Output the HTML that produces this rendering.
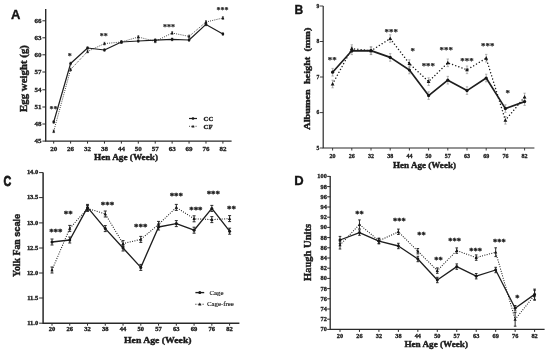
<!DOCTYPE html>
<html lang="en">
<head>
<meta charset="utf-8">
<title>Egg quality by hen age</title>
<style>
html,body{margin:0;padding:0;background:#fff;}
body{width:550px;height:354px;overflow:hidden;}
svg{display:block;}
text{font-family:"Liberation Serif",serif;font-weight:bold;fill:#1c1c1c;stroke:#1c1c1c;stroke-width:0.3px;}
.lb{stroke-width:0.42px;}
.sans{font-family:"Liberation Sans",sans-serif;}
.pl{font-family:"Liberation Sans",sans-serif;font-weight:bold;fill:#151515;stroke:#151515;}
.ax{fill:none;stroke:#2a2a2a;stroke-linecap:butt;}
.ln{fill:none;stroke:#1e1e1e;stroke-linejoin:round;}
.mk{fill:#161616;stroke:none;}
.st text{stroke-width:inherit;}
.lb{white-space:pre;}
.lgr{font-weight:normal;stroke-width:0.15px;}
</style>
</head>
<body>
<svg width="550" height="354" viewBox="0 0 550 354">
<rect width="550" height="354" fill="#fff"/>
<g id="chartA">
<path fill="none" stroke="#333" stroke-width="0.6" d="M53.7 120.7V123.3M52.7 120.7h2M52.7 123.3h2M70.62 62.2V64.8M69.62 62.2h2M69.62 64.8h2M87.54 46.7V49.3M86.54 46.7h2M86.54 49.3h2M104.46 48.7V51.3M103.46 48.7h2M103.46 51.3h2M121.38 40.7V43.3M120.38 40.7h2M120.38 43.3h2M138.3 39.7V42.3M137.3 39.7h2M137.3 42.3h2M155.22 38.9V41.5M154.22 38.9h2M154.22 41.5h2M172.14 38.1V40.7M171.14 38.1h2M171.14 40.7h2M189.06 38.7V41.3M188.06 38.7h2M188.06 41.3h2M205.98 23.1V25.7M204.98 23.1h2M204.98 25.7h2M222.9 32.7V35.3M221.9 32.7h2M221.9 35.3h2M53.7 130V132.6M52.7 130h2M52.7 132.6h2M70.62 68.2V70.8M69.62 68.2h2M69.62 70.8h2M87.54 50.2V52.8M86.54 50.2h2M86.54 52.8h2M104.46 42.3V44.9M103.46 42.3h2M103.46 44.9h2M121.38 40.7V43.3M120.38 40.7h2M120.38 43.3h2M138.3 35.7V38.3M137.3 35.7h2M137.3 38.3h2M155.22 40.1V42.7M154.22 40.1h2M154.22 42.7h2M172.14 31.7V34.3M171.14 31.7h2M171.14 34.3h2M189.06 35.1V37.7M188.06 35.1h2M188.06 37.7h2M205.98 20.7V23.3M204.98 20.7h2M204.98 23.3h2M222.9 16.7V19.3M221.9 16.7h2M221.9 19.3h2"/>
<path class="ax" stroke-width="1.4" d="M45.7 9V141.1H231.6"/>
<path class="ax" stroke-width="1.0" d="M42.4 20.8H45.7M42.4 37.8H45.7M42.4 54.8H45.7M42.4 72H45.7M42.4 89.8H45.7M42.4 107H45.7M42.4 124H45.7M42.4 141.1H45.7M53.7 141.1V143.6M70.62 141.1V143.6M87.54 141.1V143.6M104.46 141.1V143.6M121.38 141.1V143.6M138.3 141.1V143.6M155.22 141.1V143.6M172.14 141.1V143.6M189.06 141.1V143.6M205.98 141.1V143.6M222.9 141.1V143.6"/>
<g class="tl">
<text x="41.6" y="23.14" font-size="7.0" text-anchor="end">66</text>
<text x="41.6" y="40.14" font-size="7.0" text-anchor="end">63</text>
<text x="41.6" y="57.14" font-size="7.0" text-anchor="end">60</text>
<text x="41.6" y="74.34" font-size="7.0" text-anchor="end">57</text>
<text x="41.6" y="92.14" font-size="7.0" text-anchor="end">54</text>
<text x="41.6" y="109.34" font-size="7.0" text-anchor="end">51</text>
<text x="41.6" y="126.34" font-size="7.0" text-anchor="end">48</text>
<text x="41.6" y="143.44" font-size="7.0" text-anchor="end">45</text>
<text x="53.7" y="150.6" font-size="7.0" text-anchor="middle">20</text>
<text x="70.62" y="150.6" font-size="7.0" text-anchor="middle">26</text>
<text x="87.54" y="150.6" font-size="7.0" text-anchor="middle">32</text>
<text x="104.46" y="150.6" font-size="7.0" text-anchor="middle">38</text>
<text x="121.38" y="150.6" font-size="7.0" text-anchor="middle">44</text>
<text x="138.3" y="150.6" font-size="7.0" text-anchor="middle">50</text>
<text x="155.22" y="150.6" font-size="7.0" text-anchor="middle">57</text>
<text x="172.14" y="150.6" font-size="7.0" text-anchor="middle">63</text>
<text x="189.06" y="150.6" font-size="7.0" text-anchor="middle">69</text>
<text x="205.98" y="150.6" font-size="7.0" text-anchor="middle">76</text>
<text x="222.9" y="150.6" font-size="7.0" text-anchor="middle">82</text>
</g>
<polyline class="ln" stroke-width="0.9" stroke-dasharray="0.9 1.3" stroke-linecap="butt" points="53.7,131.3 70.62,69.5 87.54,51.5 104.46,43.6 121.38,42 138.3,37 155.22,41.4 172.14,33 189.06,36.4 205.98,22 222.9,18"/>
<polyline class="ln" stroke-width="1.2" points="53.7,122 70.62,63.5 87.54,48 104.46,50 121.38,42 138.3,41 155.22,40.2 172.14,39.4 189.06,40 205.98,24.4 222.9,34"/>
<circle class="mk" cx="53.7" cy="122" r="1.35"/>
<circle class="mk" cx="70.62" cy="63.5" r="1.35"/>
<circle class="mk" cx="87.54" cy="48" r="1.35"/>
<circle class="mk" cx="104.46" cy="50" r="1.35"/>
<circle class="mk" cx="121.38" cy="42" r="1.35"/>
<circle class="mk" cx="138.3" cy="41" r="1.35"/>
<circle class="mk" cx="155.22" cy="40.2" r="1.35"/>
<circle class="mk" cx="172.14" cy="39.4" r="1.35"/>
<circle class="mk" cx="189.06" cy="40" r="1.35"/>
<circle class="mk" cx="205.98" cy="24.4" r="1.35"/>
<circle class="mk" cx="222.9" cy="34" r="1.35"/>
<path class="mk" d="M53.7 129.65l1.5 2.85h-3zM70.62 67.85l1.5 2.85h-3zM87.54 49.85l1.5 2.85h-3zM104.46 41.95l1.5 2.85h-3zM121.38 40.35l1.5 2.85h-3zM138.3 35.35l1.5 2.85h-3zM155.22 39.75l1.5 2.85h-3zM172.14 31.35l1.5 2.85h-3zM189.06 34.75l1.5 2.85h-3zM205.98 20.35l1.5 2.85h-3zM222.9 16.35l1.5 2.85h-3z"/>
<g class="st" stroke-width="0.15">
<text x="53.4" y="112.48" font-size="8.0" text-anchor="middle">**</text>
<text x="69.8" y="59.48" font-size="8.0" text-anchor="middle">*</text>
<text x="103.8" y="38.88" font-size="8.0" text-anchor="middle">**</text>
<text x="169" y="29.88" font-size="8.0" text-anchor="middle">***</text>
<text x="222.5" y="13.08" font-size="8.0" text-anchor="middle">***</text>
</g>
<text class="lb" xml:space="preserve" font-size="10" text-anchor="middle" textLength="67" lengthAdjust="spacingAndGlyphs" transform="translate(26.6 78.5) rotate(-90)">Egg weight (g)</text>
<text class="lb" font-size="9.0" text-anchor="middle" textLength="64" lengthAdjust="spacingAndGlyphs" x="126" y="159.7">Hen Age (Week)</text>
<text class="pl" font-size="13" style="stroke-width:0.35px" transform="translate(11 18.8) scale(1 1)">A</text>
<path class="ln" stroke-width="1.2" d="M189 118.5h8"/>
<circle class="mk" cx="193" cy="118.5" r="1.35"/>
<text class="lgb" x="203.6" y="120.9" font-size="6.8" text-anchor="start">CC</text>
<path class="ln" stroke-width="0.9" stroke-dasharray="0.9 1.3" d="M189 126.3h8"/>
<path class="mk" d="M193 124.65l1.5 2.85h-3z"/>
<text class="lgb" x="203.6" y="128.7" font-size="6.8" text-anchor="start">CF</text>
</g>
<g id="chartB">
<path fill="none" stroke="#8c8c8c" stroke-width="0.65" d="M332.6 68.4V76M331.4 68.4h2.4M331.4 76h2.4M351.8 47V54.6M350.6 47h2.4M350.6 54.6h2.4M371 46.8V54.4M369.8 46.8h2.4M369.8 54.4h2.4M390.2 53.6V61.2M389 53.6h2.4M389 61.2h2.4M409.4 66.2V73.8M408.2 66.2h2.4M408.2 73.8h2.4M428.6 91.8V99.4M427.4 91.8h2.4M427.4 99.4h2.4M447.8 76.4V84M446.6 76.4h2.4M446.6 84h2.4M467 86.8V94.4M465.8 86.8h2.4M465.8 94.4h2.4M486.2 74.2V81.8M485 74.2h2.4M485 81.8h2.4M505.4 104.8V112.4M504.2 104.8h2.4M504.2 112.4h2.4M524.6 97.8V105.4M523.4 97.8h2.4M523.4 105.4h2.4M332.6 80.2V87.8M331.4 80.2h2.4M331.4 87.8h2.4M351.8 44.8V52.4M350.6 44.8h2.4M350.6 52.4h2.4M371 47V54.6M369.8 47h2.4M369.8 54.6h2.4M390.2 34.8V42.4M389 34.8h2.4M389 42.4h2.4M409.4 59.8V67.4M408.2 59.8h2.4M408.2 67.4h2.4M428.6 77.8V85.4M427.4 77.8h2.4M427.4 85.4h2.4M447.8 59V66.6M446.6 59h2.4M446.6 66.6h2.4M467 66V73.6M465.8 66h2.4M465.8 73.6h2.4M486.2 54.4V62M485 54.4h2.4M485 62h2.4M505.4 116.5V124.1M504.2 116.5h2.4M504.2 124.1h2.4M524.6 93.2V100.8M523.4 93.2h2.4M523.4 100.8h2.4"/>
<path class="ax" stroke-width="1.2" d="M323.2 6V148H534.4"/>
<path class="ax" stroke-width="0.9" d="M319.9 6H323.2M319.9 41.5H323.2M319.9 77H323.2M319.9 112.6H323.2M319.9 148H323.2M332.6 148V150.5M351.8 148V150.5M371 148V150.5M390.2 148V150.5M409.4 148V150.5M428.6 148V150.5M447.8 148V150.5M467 148V150.5M486.2 148V150.5M505.4 148V150.5M524.6 148V150.5"/>
<g class="tl">
<text x="319.4" y="7.88" font-size="5.6" text-anchor="end">9</text>
<text x="319.4" y="43.38" font-size="5.6" text-anchor="end">8</text>
<text x="319.4" y="78.88" font-size="5.6" text-anchor="end">7</text>
<text x="319.4" y="114.48" font-size="5.6" text-anchor="end">6</text>
<text x="319.4" y="149.88" font-size="5.6" text-anchor="end">5</text>
<text x="332.6" y="158.4" font-size="6.0" text-anchor="middle">20</text>
<text x="351.8" y="158.4" font-size="6.0" text-anchor="middle">26</text>
<text x="371" y="158.4" font-size="6.0" text-anchor="middle">32</text>
<text x="390.2" y="158.4" font-size="6.0" text-anchor="middle">38</text>
<text x="409.4" y="158.4" font-size="6.0" text-anchor="middle">44</text>
<text x="428.6" y="158.4" font-size="6.0" text-anchor="middle">50</text>
<text x="447.8" y="158.4" font-size="6.0" text-anchor="middle">57</text>
<text x="467" y="158.4" font-size="6.0" text-anchor="middle">63</text>
<text x="486.2" y="158.4" font-size="6.0" text-anchor="middle">69</text>
<text x="505.4" y="158.4" font-size="6.0" text-anchor="middle">76</text>
<text x="524.6" y="158.4" font-size="6.0" text-anchor="middle">82</text>
</g>
<polyline class="ln" stroke-width="1.45" stroke-dasharray="0.01 3.3" stroke-linecap="round" points="332.6,84 351.8,48.6 371,50.8 390.2,38.6 409.4,63.6 428.6,81.6 447.8,62.8 467,69.8 486.2,58.2 505.4,120.3 524.6,97"/>
<polyline class="ln" stroke-width="1.7" points="332.6,72.2 351.8,50.8 371,50.6 390.2,57.4 409.4,70 428.6,95.6 447.8,80.2 467,90.6 486.2,78 505.4,108.6 524.6,101.6"/>
<circle class="mk" cx="332.6" cy="72.2" r="1.6"/>
<circle class="mk" cx="351.8" cy="50.8" r="1.6"/>
<circle class="mk" cx="371" cy="50.6" r="1.6"/>
<circle class="mk" cx="390.2" cy="57.4" r="1.6"/>
<circle class="mk" cx="409.4" cy="70" r="1.6"/>
<circle class="mk" cx="428.6" cy="95.6" r="1.6"/>
<circle class="mk" cx="447.8" cy="80.2" r="1.6"/>
<circle class="mk" cx="467" cy="90.6" r="1.6"/>
<circle class="mk" cx="486.2" cy="78" r="1.6"/>
<circle class="mk" cx="505.4" cy="108.6" r="1.6"/>
<circle class="mk" cx="524.6" cy="101.6" r="1.6"/>
<path class="mk" d="M332.6 81.91l1.9 3.61h-3.8zM351.8 46.51l1.9 3.61h-3.8zM371 48.71l1.9 3.61h-3.8zM390.2 36.51l1.9 3.61h-3.8zM409.4 61.51l1.9 3.61h-3.8zM428.6 79.51l1.9 3.61h-3.8zM447.8 60.71l1.9 3.61h-3.8zM467 67.71l1.9 3.61h-3.8zM486.2 56.11l1.9 3.61h-3.8zM505.4 118.21l1.9 3.61h-3.8zM524.6 94.91l1.9 3.61h-3.8z"/>
<g class="st" stroke-width="0.2">
<text x="332.3" y="62.69" font-size="8.9" text-anchor="middle">**</text>
<text x="391.2" y="35.09" font-size="8.9" text-anchor="middle">***</text>
<text x="412.6" y="54.29" font-size="8.9" text-anchor="middle">*</text>
<text x="428.3" y="69.29" font-size="8.9" text-anchor="middle">***</text>
<text x="446.2" y="53.29" font-size="8.9" text-anchor="middle">***</text>
<text x="467" y="64.19" font-size="8.9" text-anchor="middle">***</text>
<text x="487.7" y="49.29" font-size="8.9" text-anchor="middle">***</text>
<text x="507.6" y="96.29" font-size="8.9" text-anchor="middle">*</text>
</g>
<text class="lb" xml:space="preserve" font-size="8.8" text-anchor="middle" textLength="102" lengthAdjust="spacingAndGlyphs" transform="translate(310.3 78.7) rotate(-90)">Albumen  height  (mm)</text>
<text class="lb" font-size="8.9" text-anchor="middle" textLength="63" lengthAdjust="spacingAndGlyphs" x="424.5" y="168.4">Hen Age (Week)</text>
<text class="pl" font-size="13" style="stroke-width:0.35px" transform="translate(294.6 13.6) scale(0.93 1)">B</text>
</g>
<g id="chartC">
<path fill="none" stroke="#222" stroke-width="0.95" d="M52 239V245M50.5 239h3M50.5 245h3M69.76 237V243M68.26 237h3M68.26 243h3M87.52 204.4V210.4M86.02 204.4h3M86.02 210.4h3M105.28 225.6V231.6M103.78 225.6h3M103.78 231.6h3M123.04 245V251M121.54 245h3M121.54 251h3M140.8 264.4V270.4M139.3 264.4h3M139.3 270.4h3M158.56 224V230M157.06 224h3M157.06 230h3M176.32 220.6V226.6M174.82 220.6h3M174.82 226.6h3M194.08 227.2V233.2M192.58 227.2h3M192.58 233.2h3M211.84 205.4V211.4M210.34 205.4h3M210.34 211.4h3M229.6 228.2V234.2M228.1 228.2h3M228.1 234.2h3M52 267V273M50.5 267h3M50.5 273h3M69.76 225.4V231.4M68.26 225.4h3M68.26 231.4h3M87.52 205.4V211.4M86.02 205.4h3M86.02 211.4h3M105.28 211V217M103.78 211h3M103.78 217h3M123.04 240.6V246.6M121.54 240.6h3M121.54 246.6h3M140.8 236.4V242.4M139.3 236.4h3M139.3 242.4h3M158.56 221.4V227.4M157.06 221.4h3M157.06 227.4h3M176.32 204.4V210.4M174.82 204.4h3M174.82 210.4h3M194.08 215.8V221.8M192.58 215.8h3M192.58 221.8h3M211.84 216.6V222.6M210.34 216.6h3M210.34 222.6h3M229.6 215.6V221.6M228.1 215.6h3M228.1 221.6h3"/>
<path class="ax" stroke-width="1.5" d="M43.1 172.4V323.2H239.4"/>
<path class="ax" stroke-width="1.0" d="M39.1 172.6H43.1M39.1 197.6H43.1M39.1 222.9H43.1M39.1 248H43.1M39.1 273H43.1M39.1 298H43.1M39.1 323.2H43.1M52 323.2V325.7M69.76 323.2V325.7M87.52 323.2V325.7M105.28 323.2V325.7M123.04 323.2V325.7M140.8 323.2V325.7M158.56 323.2V325.7M176.32 323.2V325.7M194.08 323.2V325.7M211.84 323.2V325.7M229.6 323.2V325.7"/>
<g class="tl">
<text transform="translate(38.2 174.38) scale(1.22 1)" font-size="5.3" text-anchor="end">14.0</text>
<text transform="translate(38.2 199.38) scale(1.22 1)" font-size="5.3" text-anchor="end">13.5</text>
<text transform="translate(38.2 224.68) scale(1.22 1)" font-size="5.3" text-anchor="end">13.0</text>
<text transform="translate(38.2 249.78) scale(1.22 1)" font-size="5.3" text-anchor="end">12.5</text>
<text transform="translate(38.2 274.78) scale(1.22 1)" font-size="5.3" text-anchor="end">12.0</text>
<text transform="translate(38.2 299.78) scale(1.22 1)" font-size="5.3" text-anchor="end">11.5</text>
<text transform="translate(38.2 324.98) scale(1.22 1)" font-size="5.3" text-anchor="end">11.0</text>
<text transform="translate(52 331.4) scale(1.22 1)" font-size="5.3" text-anchor="middle">20</text>
<text transform="translate(69.76 331.4) scale(1.22 1)" font-size="5.3" text-anchor="middle">26</text>
<text transform="translate(87.52 331.4) scale(1.22 1)" font-size="5.3" text-anchor="middle">32</text>
<text transform="translate(105.28 331.4) scale(1.22 1)" font-size="5.3" text-anchor="middle">38</text>
<text transform="translate(123.04 331.4) scale(1.22 1)" font-size="5.3" text-anchor="middle">44</text>
<text transform="translate(140.8 331.4) scale(1.22 1)" font-size="5.3" text-anchor="middle">50</text>
<text transform="translate(158.56 331.4) scale(1.22 1)" font-size="5.3" text-anchor="middle">57</text>
<text transform="translate(176.32 331.4) scale(1.22 1)" font-size="5.3" text-anchor="middle">63</text>
<text transform="translate(194.08 331.4) scale(1.22 1)" font-size="5.3" text-anchor="middle">69</text>
<text transform="translate(211.84 331.4) scale(1.22 1)" font-size="5.3" text-anchor="middle">76</text>
<text transform="translate(229.6 331.4) scale(1.22 1)" font-size="5.3" text-anchor="middle">82</text>
</g>
<polyline class="ln" stroke-width="1.05" stroke-dasharray="1.0 1.4" stroke-linecap="butt" points="52,270 69.76,228.4 87.52,208.4 105.28,214 123.04,243.6 140.8,239.4 158.56,224.4 176.32,207.4 194.08,218.8 211.84,219.6 229.6,218.6"/>
<polyline class="ln" stroke-width="1.35" points="52,242 69.76,240 87.52,207.4 105.28,228.6 123.04,248 140.8,267.4 158.56,227 176.32,223.6 194.08,230.2 211.84,208.4 229.6,231.2"/>
<circle class="mk" cx="52" cy="242" r="1.5"/>
<circle class="mk" cx="69.76" cy="240" r="1.5"/>
<circle class="mk" cx="87.52" cy="207.4" r="1.5"/>
<circle class="mk" cx="105.28" cy="228.6" r="1.5"/>
<circle class="mk" cx="123.04" cy="248" r="1.5"/>
<circle class="mk" cx="140.8" cy="267.4" r="1.5"/>
<circle class="mk" cx="158.56" cy="227" r="1.5"/>
<circle class="mk" cx="176.32" cy="223.6" r="1.5"/>
<circle class="mk" cx="194.08" cy="230.2" r="1.5"/>
<circle class="mk" cx="211.84" cy="208.4" r="1.5"/>
<circle class="mk" cx="229.6" cy="231.2" r="1.5"/>
<path class="mk" d="M52 268.24l1.6 3.04h-3.2zM69.76 226.64l1.6 3.04h-3.2zM87.52 206.64l1.6 3.04h-3.2zM105.28 212.24l1.6 3.04h-3.2zM123.04 241.84l1.6 3.04h-3.2zM140.8 237.64l1.6 3.04h-3.2zM158.56 222.64l1.6 3.04h-3.2zM176.32 205.64l1.6 3.04h-3.2zM194.08 217.04l1.6 3.04h-3.2zM211.84 217.84l1.6 3.04h-3.2zM229.6 216.84l1.6 3.04h-3.2z"/>
<g class="st" stroke-width="0.3">
<text transform="translate(55.8 234.6) scale(1.2 1)" font-size="7.4" text-anchor="middle">***</text>
<text transform="translate(68.2 216.6) scale(1.2 1)" font-size="7.4" text-anchor="middle">**</text>
<text transform="translate(107.5 207.6) scale(1.2 1)" font-size="7.4" text-anchor="middle">***</text>
<text transform="translate(140.7 230) scale(1.2 1)" font-size="7.4" text-anchor="middle">***</text>
<text transform="translate(176.3 198.8) scale(1.2 1)" font-size="7.4" text-anchor="middle">***</text>
<text transform="translate(195.9 212.6) scale(1.2 1)" font-size="7.4" text-anchor="middle">***</text>
<text transform="translate(213.3 197.2) scale(1.2 1)" font-size="7.4" text-anchor="middle">***</text>
<text transform="translate(231.4 212) scale(1.2 1)" font-size="7.4" text-anchor="middle">**</text>
</g>
<text class="lb" xml:space="preserve" font-size="9.8" text-anchor="middle" transform="translate(20 245.4) rotate(-90)">Yolk Fan <tspan class="sans" font-size="9.2">scale</tspan></text>
<text class="lb" font-size="9.2" text-anchor="middle" textLength="67.6" lengthAdjust="spacingAndGlyphs" x="157.8" y="342.6">Hen Age (Week)</text>
<text class="pl" font-size="14.2" style="stroke-width:0.75px" transform="translate(3.6 186) scale(0.76 1)">C</text>
<path class="ln" stroke-width="1.35" d="M195.4 292.6h8.8"/>
<circle class="mk" cx="199.8" cy="292.6" r="1.5"/>
<text class="lgr" transform="translate(209.4 294.6) scale(1.12 1)" font-size="6.1" text-anchor="start">Cage</text>
<path class="ln" stroke-width="1.05" stroke-dasharray="1.0 1.4" d="M195.4 304.3h8.8"/>
<path class="mk" d="M199.8 302.54l1.6 3.04h-3.2z"/>
<text class="lgr" transform="translate(207 306.2) scale(1.12 1)" font-size="6.1" text-anchor="start">Cage-free</text>
</g>
<g id="chartD">
<path fill="none" stroke="#222" stroke-width="0.95" d="M340 236.4V243.6M338.7 236.4h2.6M338.7 243.6h2.6M359.46 229.9V235.3M358.16 229.9h2.6M358.16 235.3h2.6M378.92 238.5V243.9M377.62 238.5h2.6M377.62 243.9h2.6M398.38 243.3V248.7M397.08 243.3h2.6M397.08 248.7h2.6M417.84 256.3V261.7M416.54 256.3h2.6M416.54 261.7h2.6M437.3 277.3V282.7M436 277.3h2.6M436 282.7h2.6M456.76 263.9V269.3M455.46 263.9h2.6M455.46 269.3h2.6M476.22 273.5V278.9M474.92 273.5h2.6M474.92 278.9h2.6M495.68 267.3V272.7M494.38 267.3h2.6M494.38 272.7h2.6M515.14 305.5V310.9M513.84 305.5h2.6M513.84 310.9h2.6M534.6 289.1V299.7M533.3 289.1h2.6M533.3 299.7h2.6M340 241V249M338.7 241h2.6M338.7 249h2.6M359.46 219.9V228.9M358.16 219.9h2.6M358.16 228.9h2.6M378.92 238.1V243.5M377.62 238.1h2.6M377.62 243.5h2.6M398.38 229.1V234.5M397.08 229.1h2.6M397.08 234.5h2.6M417.84 248.5V253.9M416.54 248.5h2.6M416.54 253.9h2.6M437.3 267.9V273.3M436 267.9h2.6M436 273.3h2.6M456.76 247.9V253.3M455.46 247.9h2.6M455.46 253.3h2.6M476.22 254.9V260.3M474.92 254.9h2.6M474.92 260.3h2.6M495.68 247.8V256.6M494.38 247.8h2.6M494.38 256.6h2.6M515.14 312.6V326.2M513.84 312.6h2.6M513.84 326.2h2.6M534.6 290.2V300.2M533.3 290.2h2.6M533.3 300.2h2.6"/>
<path class="ax" stroke-width="1.3" d="M330.2 176V329.4H544.6"/>
<path class="ax" stroke-width="1.0" d="M327.2 176.4H330.2M327.2 186.6H330.2M327.2 196.8H330.2M327.2 207H330.2M327.2 217.2H330.2M327.2 227.4H330.2M327.2 237.6H330.2M327.2 247.8H330.2M327.2 258H330.2M327.2 268.2H330.2M327.2 278.4H330.2M327.2 288.6H330.2M327.2 298.8H330.2M327.2 309H330.2M327.2 319.2H330.2M327.2 329.4H330.2M340 329.4V331.9M359.46 329.4V331.9M378.92 329.4V331.9M398.38 329.4V331.9M417.84 329.4V331.9M437.3 329.4V331.9M456.76 329.4V331.9M476.22 329.4V331.9M495.68 329.4V331.9M515.14 329.4V331.9M534.6 329.4V331.9"/>
<g class="tl">
<text transform="translate(326.8 178.41) scale(1.05 1)" font-size="6.0" text-anchor="end">100</text>
<text transform="translate(326.8 188.61) scale(1.05 1)" font-size="6.0" text-anchor="end">98</text>
<text transform="translate(326.8 198.81) scale(1.05 1)" font-size="6.0" text-anchor="end">96</text>
<text transform="translate(326.8 209.01) scale(1.05 1)" font-size="6.0" text-anchor="end">94</text>
<text transform="translate(326.8 219.21) scale(1.05 1)" font-size="6.0" text-anchor="end">92</text>
<text transform="translate(326.8 229.41) scale(1.05 1)" font-size="6.0" text-anchor="end">90</text>
<text transform="translate(326.8 239.61) scale(1.05 1)" font-size="6.0" text-anchor="end">88</text>
<text transform="translate(326.8 249.81) scale(1.05 1)" font-size="6.0" text-anchor="end">86</text>
<text transform="translate(326.8 260.01) scale(1.05 1)" font-size="6.0" text-anchor="end">84</text>
<text transform="translate(326.8 270.21) scale(1.05 1)" font-size="6.0" text-anchor="end">82</text>
<text transform="translate(326.8 280.41) scale(1.05 1)" font-size="6.0" text-anchor="end">80</text>
<text transform="translate(326.8 290.61) scale(1.05 1)" font-size="6.0" text-anchor="end">78</text>
<text transform="translate(326.8 300.81) scale(1.05 1)" font-size="6.0" text-anchor="end">76</text>
<text transform="translate(326.8 311.01) scale(1.05 1)" font-size="6.0" text-anchor="end">74</text>
<text transform="translate(326.8 321.21) scale(1.05 1)" font-size="6.0" text-anchor="end">72</text>
<text transform="translate(326.8 331.41) scale(1.05 1)" font-size="6.0" text-anchor="end">70</text>
<text transform="translate(340 338) scale(1.05 1)" font-size="6.0" text-anchor="middle">20</text>
<text transform="translate(359.46 338) scale(1.05 1)" font-size="6.0" text-anchor="middle">26</text>
<text transform="translate(378.92 338) scale(1.05 1)" font-size="6.0" text-anchor="middle">32</text>
<text transform="translate(398.38 338) scale(1.05 1)" font-size="6.0" text-anchor="middle">38</text>
<text transform="translate(417.84 338) scale(1.05 1)" font-size="6.0" text-anchor="middle">44</text>
<text transform="translate(437.3 338) scale(1.05 1)" font-size="6.0" text-anchor="middle">50</text>
<text transform="translate(456.76 338) scale(1.05 1)" font-size="6.0" text-anchor="middle">57</text>
<text transform="translate(476.22 338) scale(1.05 1)" font-size="6.0" text-anchor="middle">63</text>
<text transform="translate(495.68 338) scale(1.05 1)" font-size="6.0" text-anchor="middle">69</text>
<text transform="translate(515.14 338) scale(1.05 1)" font-size="6.0" text-anchor="middle">76</text>
<text transform="translate(534.6 338) scale(1.05 1)" font-size="6.0" text-anchor="middle">82</text>
</g>
<polyline class="ln" stroke-width="1.05" stroke-dasharray="1.0 1.4" stroke-linecap="butt" points="340,245 359.46,224.4 378.92,240.8 398.38,231.8 417.84,251.2 437.3,270.6 456.76,250.6 476.22,257.6 495.68,252.2 515.14,319.4 534.6,295.2"/>
<polyline class="ln" stroke-width="1.3" points="340,240 359.46,232.6 378.92,241.2 398.38,246 417.84,259 437.3,280 456.76,266.6 476.22,276.2 495.68,270 515.14,308.2 534.6,294.4"/>
<circle class="mk" cx="340" cy="240" r="1.45"/>
<circle class="mk" cx="359.46" cy="232.6" r="1.45"/>
<circle class="mk" cx="378.92" cy="241.2" r="1.45"/>
<circle class="mk" cx="398.38" cy="246" r="1.45"/>
<circle class="mk" cx="417.84" cy="259" r="1.45"/>
<circle class="mk" cx="437.3" cy="280" r="1.45"/>
<circle class="mk" cx="456.76" cy="266.6" r="1.45"/>
<circle class="mk" cx="476.22" cy="276.2" r="1.45"/>
<circle class="mk" cx="495.68" cy="270" r="1.45"/>
<circle class="mk" cx="515.14" cy="308.2" r="1.45"/>
<circle class="mk" cx="534.6" cy="294.4" r="1.45"/>
<path class="mk" d="M340 243.24l1.6 3.04h-3.2zM359.46 222.64l1.6 3.04h-3.2zM378.92 239.04l1.6 3.04h-3.2zM398.38 230.04l1.6 3.04h-3.2zM417.84 249.44l1.6 3.04h-3.2zM437.3 268.84l1.6 3.04h-3.2zM456.76 248.84l1.6 3.04h-3.2zM476.22 255.84l1.6 3.04h-3.2zM495.68 250.44l1.6 3.04h-3.2zM515.14 317.64l1.6 3.04h-3.2zM534.6 293.44l1.6 3.04h-3.2z"/>
<g class="st" stroke-width="0.3">
<text transform="translate(359.5 216.63) scale(1.05 1)" font-size="8.1" text-anchor="middle">**</text>
<text transform="translate(399.3 224.23) scale(1.05 1)" font-size="8.1" text-anchor="middle">***</text>
<text transform="translate(421.6 238.23) scale(1.05 1)" font-size="8.1" text-anchor="middle">**</text>
<text transform="translate(438.4 263.23) scale(1.05 1)" font-size="8.1" text-anchor="middle">**</text>
<text transform="translate(454.5 244.23) scale(1.05 1)" font-size="8.1" text-anchor="middle">***</text>
<text transform="translate(475.7 253.63) scale(1.05 1)" font-size="8.1" text-anchor="middle">***</text>
<text transform="translate(499.3 245.23) scale(1.05 1)" font-size="8.1" text-anchor="middle">***</text>
<text transform="translate(517.4 300.63) scale(1.05 1)" font-size="8.1" text-anchor="middle">*</text>
</g>
<text class="lb" xml:space="preserve" font-size="10.2" text-anchor="middle" textLength="57" lengthAdjust="spacingAndGlyphs" transform="translate(311.4 252.5) rotate(-90)">Haugh Units</text>
<text class="lb" font-size="9.0" text-anchor="middle" textLength="63.6" lengthAdjust="spacingAndGlyphs" x="436.2" y="346.6">Hen Age (Week)</text>
<text class="pl" font-size="13" style="stroke-width:0.35px" transform="translate(294.2 185.3) scale(1 1)">D</text>
</g>
</svg>
</body>
</html>
